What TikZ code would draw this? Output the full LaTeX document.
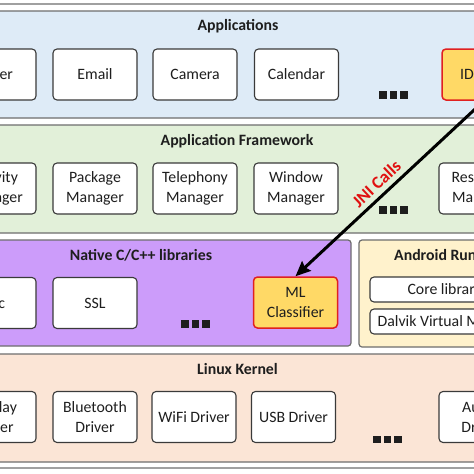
\documentclass[tikz,border=0pt]{standalone}
\usepackage{fontspec}
\setmainfont{Carlito}
\usetikzlibrary{arrows.meta}
\definecolor{appbg}{HTML}{DEEBF7}
\definecolor{fwbg}{HTML}{E2F0D9}
\definecolor{nativebg}{HTML}{CC9CFA}
\definecolor{rtbg}{HTML}{FFF2CC}
\definecolor{linuxbg}{HTML}{FBE5D6}
\definecolor{panelline}{HTML}{6E6E6E}
\definecolor{boxline}{HTML}{3A3A3A}
\definecolor{hlfill}{HTML}{FFD966}
\definecolor{hlline}{HTML}{E02020}
\definecolor{textc}{HTML}{1E1E1E}
\definecolor{jnired}{HTML}{E01010}
\newcommand\dotrow{\rule{7.5pt}{7.5pt}\hspace{3pt}\rule{7.5pt}{7.5pt}\hspace{3pt}\rule{7.5pt}{7.5pt}}
\begin{document}
\begin{tikzpicture}[x=1pt,y=-1pt,
  panel/.style={draw=panelline, line width=1.2pt, rounded corners=3pt},
  comp/.style={draw=boxline, fill=white, line width=1.1pt, rounded corners=4pt,
    minimum width=84pt, minimum height=51pt, align=center, inner sep=0pt,
    font=\fontsize{15.8}{20}\selectfont, text=textc},
  hl/.style={comp, fill=hlfill, draw=hlline, line width=1.5pt},
  wide/.style={comp, minimum width=160pt, minimum height=25pt},
  title/.style={font=\fontsize{15.8}{19}\selectfont\bfseries, text=textc, inner sep=0pt},
  dotsn/.style={inner sep=0pt, text=textc},
  jni/.style={-{Stealth[length=15pt,width=13pt,inset=2pt]}, line width=3pt, black}
]
\useasboundingbox (0,0) rectangle (474,474);
\clip (0,0) rectangle (474,474);
\fill[white] (0,0) rectangle (474,474);

% panels
\draw[panel, fill=white] (-20,-60) rectangle (494,4);
\draw[panel, fill=appbg] (-20,11) rectangle (494,118);
\draw[panel, fill=fwbg] (-20,125) rectangle (494,233);
\draw[panel, fill=nativebg] (-20,240) rectangle (351,346);
\draw[panel, fill=rtbg] (359,240) rectangle (560,347);
\draw[panel, fill=linuxbg] (-20,354) rectangle (494,462);
\draw[panel, fill=white] (-20,468) rectangle (494,540);

% titles
\node[title] (tapp) at (238,26) {Applications};
\node[title] (tfw) at (237,141) {Application Framework};
\node[title] (tnat) at (141,255) {Native C/C++ libraries};
\node[title, anchor=west] (trt) at (394,255) {Android Runtime};
\node[title] (tlin) at (237.5,369) {Linux Kernel};

% Applications
\node[comp] (dialer) at (-6,74.5) {Dialer};
\node[comp] (email) at (95,74.5) {Email};
\node[comp] (camera) at (195,74.5) {Camera};
\node[comp] (calendar) at (296.5,74.5) {Calendar};
\node[dotsn] (d1) at (393.5,95) {\dotrow};
\node[hl] (ids) at (484,74.5) {};
\node[anchor=west, inner sep=0pt, font=\fontsize{15.8}{20}\selectfont, text=textc] (idstext) at (460,74.5) {IDS};

% Framework
\node[comp] (activity) at (-6,188.5) {Activity\\Manager};
\node[comp] (package) at (95,188.5) {Package\\Manager};
\node[comp] (telephony) at (195,188.5) {Telephony\\Manager};
\node[comp] (window) at (296,188.5) {Window\\Manager};
\node[dotsn] (d2) at (393.5,210) {\dotrow};
\node[comp] (resource) at (481,188.5) {Resource\\Manager};

% Native
\node[comp] (libc) at (-6,303) {libc};
\node[comp] (ssl) at (95,303) {SSL};
\node[dotsn] (d3) at (195.5,324) {\dotrow};
\node[hl] (ml) at (295.5,302.5) {ML\\Classifier};

% Runtime
\node[wide] (core) at (450,289.5) {Core libraries};
\node[wide] (dalvik) at (450,321.5) {Dalvik Virtual Machine};

% Linux
\node[comp] (display) at (-6,417) {Display\\Driver};
\node[comp] (bt) at (95,417) {Bluetooth\\Driver};
\node[comp] (wifi) at (194,417) {WiFi Driver};
\node[comp] (usb) at (293.5,417) {USB Driver};
\node[dotsn] (d4) at (387.5,439.5) {\dotrow};
\node[comp] (audio) at (481,417) {Audio\\Driver};

% JNI arrow
\draw[jni] (ids.south) -- (ml.north);
\node[rotate=43.3, text=jnired, font=\fontsize{17.5}{20}\selectfont\bfseries, inner sep=0pt] (jnilabel) at (376.5,183.5) {JNI Calls};
\end{tikzpicture}
\end{document}
